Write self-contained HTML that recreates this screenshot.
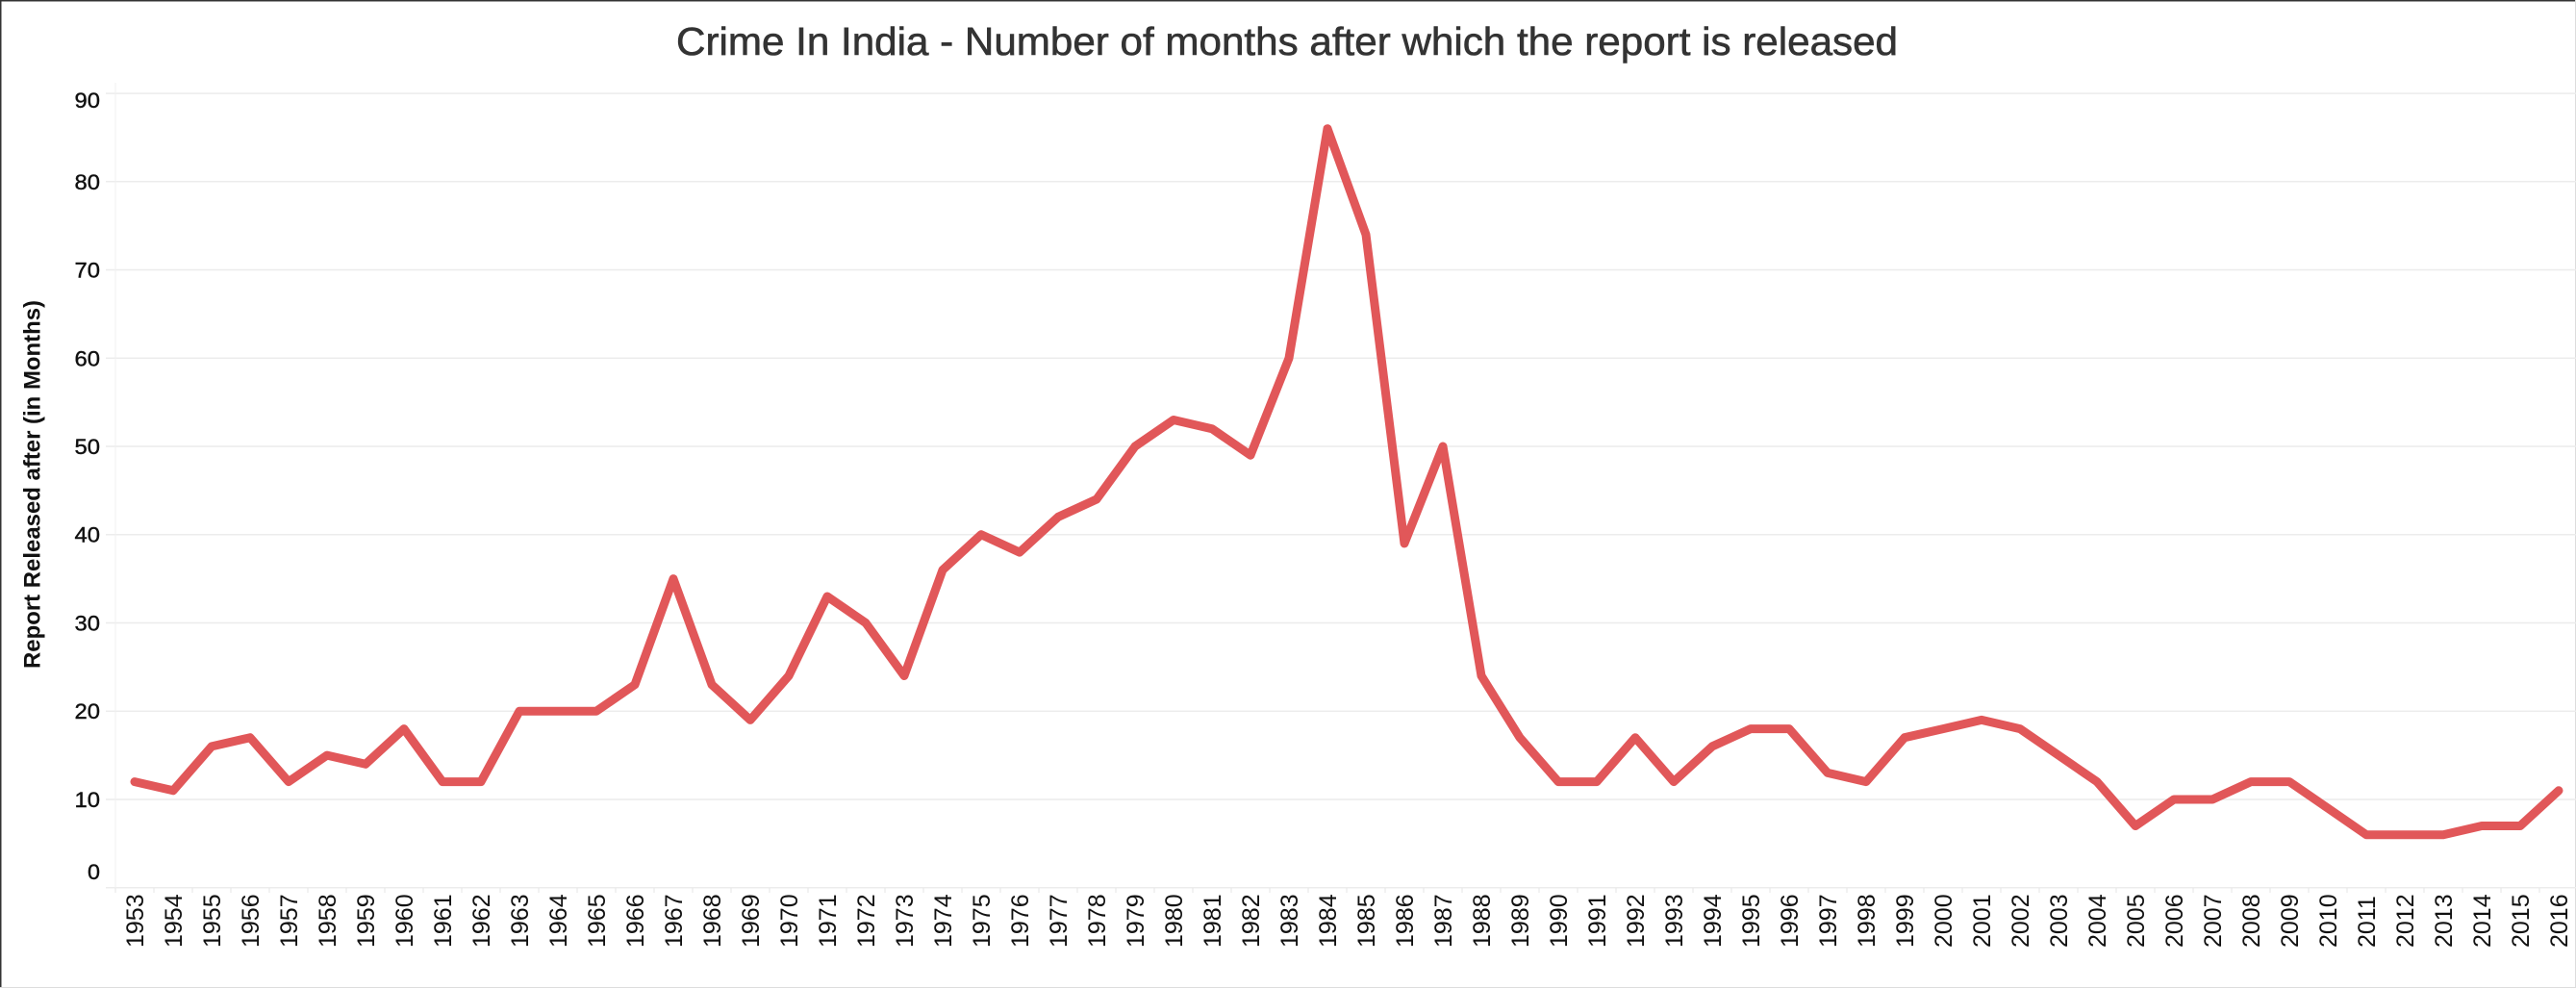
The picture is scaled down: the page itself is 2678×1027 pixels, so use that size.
<!DOCTYPE html>
<html>
<head>
<meta charset="utf-8">
<style>
  html, body { margin: 0; padding: 0; background: #ffffff; }
  body { width: 2678px; height: 1027px; overflow: hidden; }
  svg { display: block; }
</style>
</head>
<body>
<svg width="2678" height="1027" viewBox="0 0 2678 1027" xmlns="http://www.w3.org/2000/svg">
  <rect x="0" y="0" width="2678" height="1027" fill="#ffffff"/>
  <!-- borders -->
  <line x1="0" y1="0.5" x2="2678" y2="0.5" stroke="#333333" stroke-width="2"/>
  <line x1="0.5" y1="0" x2="0.5" y2="1027" stroke="#333333" stroke-width="2"/>
  <line x1="2677.5" y1="0" x2="2677.5" y2="1027" stroke="#dddddd" stroke-width="1"/>
  <line x1="0" y1="1026.5" x2="2678" y2="1026.5" stroke="#dddddd" stroke-width="1"/>

  <!-- title -->
  <text x="703" y="57" font-family="'Liberation Sans', sans-serif" font-size="41" fill="#333333" stroke="#333333" stroke-width="0.6" textLength="1270" lengthAdjust="spacingAndGlyphs">Crime In India - Number of months after which the report is released</text>

  <!-- y axis title -->
  <text transform="translate(41.5,503.5) rotate(-90)" text-anchor="middle" font-family="'Liberation Sans', sans-serif" font-size="24" font-weight="bold" fill="#111111" textLength="383" lengthAdjust="spacingAndGlyphs">Report Released after (in Months)</text>

  <!-- gridlines -->
  <g stroke="#ececec" stroke-width="1.5">
    <line x1="110" y1="922.7" x2="2678" y2="922.7"/>
    <line x1="110" y1="831.0" x2="2678" y2="831.0"/>
    <line x1="110" y1="739.2" x2="2678" y2="739.2"/>
    <line x1="110" y1="647.5" x2="2678" y2="647.5"/>
    <line x1="110" y1="555.7" x2="2678" y2="555.7"/>
    <line x1="110" y1="464.0" x2="2678" y2="464.0"/>
    <line x1="110" y1="372.3" x2="2678" y2="372.3"/>
    <line x1="110" y1="280.5" x2="2678" y2="280.5"/>
    <line x1="110" y1="188.8" x2="2678" y2="188.8"/>
    <line x1="110" y1="97.1" x2="2678" y2="97.1"/>
  </g>
  <line x1="120" y1="86" x2="120" y2="923" stroke="#f0f0f0" stroke-width="1"/>

  <!-- y tick labels -->
  <g font-family="'Liberation Sans', sans-serif" font-size="22" fill="#111111" stroke="#111111" stroke-width="0.4" text-anchor="end">
    <text x="104" y="914" textLength="13" lengthAdjust="spacingAndGlyphs">0</text>
    <text x="104" y="839.0" textLength="26.5" lengthAdjust="spacingAndGlyphs">10</text>
    <text x="104" y="747.2" textLength="26.5" lengthAdjust="spacingAndGlyphs">20</text>
    <text x="104" y="655.5" textLength="26.5" lengthAdjust="spacingAndGlyphs">30</text>
    <text x="104" y="563.7" textLength="26.5" lengthAdjust="spacingAndGlyphs">40</text>
    <text x="104" y="472.0" textLength="26.5" lengthAdjust="spacingAndGlyphs">50</text>
    <text x="104" y="380.3" textLength="26.5" lengthAdjust="spacingAndGlyphs">60</text>
    <text x="104" y="288.5" textLength="26.5" lengthAdjust="spacingAndGlyphs">70</text>
    <text x="104" y="196.8" textLength="26.5" lengthAdjust="spacingAndGlyphs">80</text>
    <text x="104" y="112" textLength="26.5" lengthAdjust="spacingAndGlyphs">90</text>
  </g>

  <!-- x ticks -->
  <g stroke="#e6e6e6" stroke-width="1">
    <line x1="120" y1="923" x2="120" y2="928"/><line x1="160" y1="923" x2="160" y2="928"/><line x1="200" y1="923" x2="200" y2="928"/><line x1="240" y1="923" x2="240" y2="928"/>
    <line x1="280" y1="923" x2="280" y2="928"/><line x1="320" y1="923" x2="320" y2="928"/><line x1="360" y1="923" x2="360" y2="928"/><line x1="400" y1="923" x2="400" y2="928"/>
    <line x1="440" y1="923" x2="440" y2="928"/><line x1="480" y1="923" x2="480" y2="928"/><line x1="520" y1="923" x2="520" y2="928"/><line x1="560" y1="923" x2="560" y2="928"/>
    <line x1="600" y1="923" x2="600" y2="928"/><line x1="640" y1="923" x2="640" y2="928"/><line x1="680" y1="923" x2="680" y2="928"/><line x1="720" y1="923" x2="720" y2="928"/>
    <line x1="760" y1="923" x2="760" y2="928"/><line x1="800" y1="923" x2="800" y2="928"/><line x1="840" y1="923" x2="840" y2="928"/><line x1="880" y1="923" x2="880" y2="928"/>
    <line x1="920" y1="923" x2="920" y2="928"/><line x1="960" y1="923" x2="960" y2="928"/><line x1="1000" y1="923" x2="1000" y2="928"/><line x1="1040" y1="923" x2="1040" y2="928"/>
    <line x1="1080" y1="923" x2="1080" y2="928"/><line x1="1120" y1="923" x2="1120" y2="928"/><line x1="1160" y1="923" x2="1160" y2="928"/><line x1="1200" y1="923" x2="1200" y2="928"/>
    <line x1="1240" y1="923" x2="1240" y2="928"/><line x1="1280" y1="923" x2="1280" y2="928"/><line x1="1320" y1="923" x2="1320" y2="928"/><line x1="1360" y1="923" x2="1360" y2="928"/>
    <line x1="1400" y1="923" x2="1400" y2="928"/><line x1="1440" y1="923" x2="1440" y2="928"/><line x1="1480" y1="923" x2="1480" y2="928"/><line x1="1520" y1="923" x2="1520" y2="928"/>
    <line x1="1560" y1="923" x2="1560" y2="928"/><line x1="1600" y1="923" x2="1600" y2="928"/><line x1="1640" y1="923" x2="1640" y2="928"/><line x1="1680" y1="923" x2="1680" y2="928"/>
    <line x1="1720" y1="923" x2="1720" y2="928"/><line x1="1760" y1="923" x2="1760" y2="928"/><line x1="1800" y1="923" x2="1800" y2="928"/><line x1="1840" y1="923" x2="1840" y2="928"/>
    <line x1="1880" y1="923" x2="1880" y2="928"/><line x1="1920" y1="923" x2="1920" y2="928"/><line x1="1960" y1="923" x2="1960" y2="928"/><line x1="2000" y1="923" x2="2000" y2="928"/>
    <line x1="2040" y1="923" x2="2040" y2="928"/><line x1="2080" y1="923" x2="2080" y2="928"/><line x1="2120" y1="923" x2="2120" y2="928"/><line x1="2160" y1="923" x2="2160" y2="928"/>
    <line x1="2200" y1="923" x2="2200" y2="928"/><line x1="2240" y1="923" x2="2240" y2="928"/><line x1="2280" y1="923" x2="2280" y2="928"/><line x1="2320" y1="923" x2="2320" y2="928"/>
    <line x1="2360" y1="923" x2="2360" y2="928"/><line x1="2400" y1="923" x2="2400" y2="928"/><line x1="2440" y1="923" x2="2440" y2="928"/><line x1="2480" y1="923" x2="2480" y2="928"/>
    <line x1="2520" y1="923" x2="2520" y2="928"/><line x1="2560" y1="923" x2="2560" y2="928"/><line x1="2600" y1="923" x2="2600" y2="928"/><line x1="2640" y1="923" x2="2640" y2="928"/>
  </g>

  <!-- x labels -->
  <g font-family="'Liberation Sans', sans-serif" font-size="25" fill="#111111">
    <text transform="translate(149,985) rotate(-90)">1953</text>
    <text transform="translate(189,985) rotate(-90)">1954</text>
    <text transform="translate(229,985) rotate(-90)">1955</text>
    <text transform="translate(269,985) rotate(-90)">1956</text>
    <text transform="translate(309,985) rotate(-90)">1957</text>
    <text transform="translate(349,985) rotate(-90)">1958</text>
    <text transform="translate(389,985) rotate(-90)">1959</text>
    <text transform="translate(429,985) rotate(-90)">1960</text>
    <text transform="translate(469,985) rotate(-90)">1961</text>
    <text transform="translate(509,985) rotate(-90)">1962</text>
    <text transform="translate(549,985) rotate(-90)">1963</text>
    <text transform="translate(589,985) rotate(-90)">1964</text>
    <text transform="translate(629,985) rotate(-90)">1965</text>
    <text transform="translate(669,985) rotate(-90)">1966</text>
    <text transform="translate(709,985) rotate(-90)">1967</text>
    <text transform="translate(749,985) rotate(-90)">1968</text>
    <text transform="translate(789,985) rotate(-90)">1969</text>
    <text transform="translate(829,985) rotate(-90)">1970</text>
    <text transform="translate(869,985) rotate(-90)">1971</text>
    <text transform="translate(909,985) rotate(-90)">1972</text>
    <text transform="translate(949,985) rotate(-90)">1973</text>
    <text transform="translate(989,985) rotate(-90)">1974</text>
    <text transform="translate(1029,985) rotate(-90)">1975</text>
    <text transform="translate(1069,985) rotate(-90)">1976</text>
    <text transform="translate(1109,985) rotate(-90)">1977</text>
    <text transform="translate(1149,985) rotate(-90)">1978</text>
    <text transform="translate(1189,985) rotate(-90)">1979</text>
    <text transform="translate(1229,985) rotate(-90)">1980</text>
    <text transform="translate(1269,985) rotate(-90)">1981</text>
    <text transform="translate(1309,985) rotate(-90)">1982</text>
    <text transform="translate(1349,985) rotate(-90)">1983</text>
    <text transform="translate(1389,985) rotate(-90)">1984</text>
    <text transform="translate(1429,985) rotate(-90)">1985</text>
    <text transform="translate(1469,985) rotate(-90)">1986</text>
    <text transform="translate(1509,985) rotate(-90)">1987</text>
    <text transform="translate(1549,985) rotate(-90)">1988</text>
    <text transform="translate(1589,985) rotate(-90)">1989</text>
    <text transform="translate(1629,985) rotate(-90)">1990</text>
    <text transform="translate(1669,985) rotate(-90)">1991</text>
    <text transform="translate(1709,985) rotate(-90)">1992</text>
    <text transform="translate(1749,985) rotate(-90)">1993</text>
    <text transform="translate(1789,985) rotate(-90)">1994</text>
    <text transform="translate(1829,985) rotate(-90)">1995</text>
    <text transform="translate(1869,985) rotate(-90)">1996</text>
    <text transform="translate(1909,985) rotate(-90)">1997</text>
    <text transform="translate(1949,985) rotate(-90)">1998</text>
    <text transform="translate(1989,985) rotate(-90)">1999</text>
    <text transform="translate(2029,985) rotate(-90)">2000</text>
    <text transform="translate(2069,985) rotate(-90)">2001</text>
    <text transform="translate(2109,985) rotate(-90)">2002</text>
    <text transform="translate(2149,985) rotate(-90)">2003</text>
    <text transform="translate(2189,985) rotate(-90)">2004</text>
    <text transform="translate(2229,985) rotate(-90)">2005</text>
    <text transform="translate(2269,985) rotate(-90)">2006</text>
    <text transform="translate(2309,985) rotate(-90)">2007</text>
    <text transform="translate(2349,985) rotate(-90)">2008</text>
    <text transform="translate(2389,985) rotate(-90)">2009</text>
    <text transform="translate(2429,985) rotate(-90)">2010</text>
    <text transform="translate(2469,985) rotate(-90)">2011</text>
    <text transform="translate(2509,985) rotate(-90)">2012</text>
    <text transform="translate(2549,985) rotate(-90)">2013</text>
    <text transform="translate(2589,985) rotate(-90)">2014</text>
    <text transform="translate(2629,985) rotate(-90)">2015</text>
    <text transform="translate(2669,985) rotate(-90)">2016</text>
  </g>

  <!-- data line -->
  <polyline fill="none" stroke="#e15759" stroke-width="9" stroke-linejoin="round" stroke-linecap="round"
    points="140,812.6 180,821.8 220,775.9 260,766.7 300,812.6 340,785.1 380,794.3 420,757.6 460,812.6 500,812.6
            540,739.2 580,739.2 620,739.2 660,711.7 700,601.6 740,711.7 780,748.4 820,702.5 860,620.0 900,647.5
            940,702.5 980,592.4 1020,555.7 1060,574.1 1100,537.4 1140,519.0 1180,464.0 1220,436.5 1260,445.7 1300,473.2
            1340,372.3 1380,133.7 1420,243.8 1460,564.9 1500,464.0 1540,702.5 1580,766.7 1620,812.6 1660,812.6 1700,766.7
            1740,812.6 1780,775.9 1820,757.6 1860,757.6 1900,803.4 1940,812.6 1980,766.7 2020,757.6 2060,748.4 2100,757.6
            2140,785.1 2180,812.6 2220,858.5 2260,831.0 2300,831.0 2340,812.6 2380,812.6 2420,840.1 2460,867.7 2500,867.7
            2540,867.7 2580,858.5 2620,858.5 2660,821.8"/>
</svg>
</body>
</html>
